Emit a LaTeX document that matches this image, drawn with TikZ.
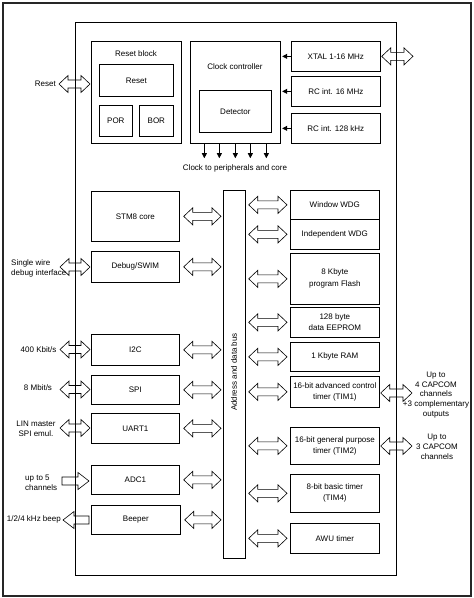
\documentclass[tikz,border=0pt]{standalone}
\usepackage{fontspec}
\setmainfont{Liberation Sans}
\usetikzlibrary{calc,arrows.meta}
\tikzset{
 blk/.style={draw, line width=0.7pt, inner sep=0pt, align=center, anchor=north west, font=\fontsize{8}{11}\selectfont},
 lbl/.style={inner sep=0pt, font=\fontsize{8}{10}\selectfont},
 hol/.style={draw, fill=white, line width=0.6pt, line join=miter},
 sar/.style={line width=0.8pt, -{Triangle[length=5pt,width=5pt]}},
}
\newcommand\mkblk[6]{\node[blk, minimum width=#4pt, minimum height=#5pt] (#1) at (#2,#3) {#6};}
\newcommand\dblar[2]{\draw[hol] let \p1=#1, \p2=#2 in
 (\x1,\y1) -- (\x1+9pt,\y1+8.5pt) -- (\x1+9pt,\y1+4pt) -- (\x2-9pt,\y1+4pt) -- (\x2-9pt,\y1+8.5pt)
 -- (\x2,\y1) -- (\x2-9pt,\y1-8.5pt) -- (\x2-9pt,\y1-4pt) -- (\x1+9pt,\y1-4pt) -- (\x1+9pt,\y1-8.5pt) -- cycle;}
\newcommand\singR[2]{\draw[hol] let \p1=#1, \p2=#2 in
 (\x1,\y1+4pt) -- (\x2-11pt,\y1+4pt) -- (\x2-11pt,\y1+8.5pt) -- (\x2,\y1) -- (\x2-11pt,\y1-8.5pt)
 -- (\x2-11pt,\y1-4pt) -- (\x1,\y1-4pt) -- cycle;}
\newcommand\singL[2]{\draw[hol] let \p1=#1, \p2=#2 in
 (\x2,\y1+4pt) -- (\x1+11pt,\y1+4pt) -- (\x1+11pt,\y1+8.5pt) -- (\x1,\y1) -- (\x1+11pt,\y1-8.5pt)
 -- (\x1+11pt,\y1-4pt) -- (\x2,\y1-4pt) -- cycle;}
\begin{document}
\begin{tikzpicture}[x=1pt,y=-1pt]
\useasboundingbox (0,0) rectangle (474,598);
\fill[white] (0,0) rectangle (474,598);
\draw[line width=1.3pt, black!85] (3,3) rectangle (471,596);

% reset block
\mkblk{resetblk}{91}{41}{90}{102}{}
\node[lbl] (resetlbl) at (136,54) {Reset block};
\mkblk{reset}{99}{64}{74}{32}{Reset}
\mkblk{por}{99}{105}{33}{31}{POR}
\mkblk{bor}{139}{105}{34}{31}{BOR}

% clock
\mkblk{clk}{190}{41}{90}{102}{}
\node[lbl] (clklbl) at (235,67) {Clock controller};
\mkblk{det}{199}{90}{72}{42}{Detector}
\mkblk{xtal}{291}{41}{89}{30}{XTAL 1-16 MHz}
\mkblk{rc16}{291}{76}{89}{30}{RC int. 16 MHz}
\mkblk{rc128}{291}{113}{89}{30}{RC int. 128 kHz}
\foreach \bb in {xtal,rc16,rc128}{
  \draw[sar, shorten >=1.5pt] (\bb.west) -- (\bb.west -| clk.east);}
\foreach \dx in {-31,-16,0,15,31}{
  \draw[sar] ([xshift=\dx pt]clk.south) -- ++(0,14.5);}
\node[lbl] (clkout) at (235,168) {Clock to peripherals and core};

% left column
\mkblk{stm8}{91}{191}{88}{50}{STM8 core}
\mkblk{swim}{91}{251}{88}{31}{Debug/SWIM}
\mkblk{i2c}{91}{334}{88}{31}{I2C}
\mkblk{spi}{91}{375}{88}{29}{SPI}
\mkblk{uart}{91}{413}{88}{30}{UART1}
\mkblk{adc}{91}{465}{88}{29}{ADC1}
\mkblk{beep}{91}{505}{89}{29}{Beeper}

% bus
\mkblk{bus}{223}{190}{22}{368}{}
\node[lbl, rotate=90] (buslbl) at (234,372) {Address and data bus};

% right column
\mkblk{wwdg}{290}{190}{89}{29}{Window WDG}
\mkblk{iwdg}{290}{219}{89}{30}{Independent WDG}
\mkblk{flash}{290}{253}{89}{51}{8 Kbyte\\[1pt]program Flash}
\mkblk{eeprom}{290}{307}{89}{30}{128 byte\\data EEPROM}
\mkblk{ram}{290}{342}{89}{29}{1 Kbyte RAM}
\mkblk{tim1}{290}{376}{89}{31}{16-bit advanced control\\timer (TIM1)}
\mkblk{tim2}{290}{427}{89}{37}{16-bit general purpose\\timer (TIM2)}
\mkblk{tim4}{290}{474}{89}{38}{8-bit basic timer\\(TIM4)}
\mkblk{awu}{290}{523}{89}{30}{AWU timer}

% bus arrows
\foreach \bb in {stm8,swim,i2c,spi,uart,adc,beep}{
  \dblar{([xshift=4pt]\bb.east)}{([xshift=-2pt]\bb.east -| bus.west)}}
\foreach \bb in {wwdg,iwdg,flash,eeprom,ram,tim1,tim2,tim4,awu}{
  \dblar{([xshift=3pt]\bb.west -| bus.east)}{([xshift=-3pt]\bb.west)}}

% external connections
\coordinate (rstx) at (59,84);
\dblar{(rstx)}{([xshift=-1pt]rstx -| resetblk.west)}
\node[lbl, anchor=east] (rstlbl) at (56,84) {Reset};

\coordinate (xtx) at (413,56);
\dblar{([xshift=1pt]xtal.east)}{(xtx)}

\coordinate (swx) at (60,267);
\dblar{(swx)}{([xshift=-1pt]swx -| swim.west)}
\node[lbl, anchor=west, align=left] (swlbl) at (11,268) {Single wire\\debug interface};

\coordinate (i2x) at (60,349.5);
\dblar{(i2x)}{([xshift=-1pt]i2x -| i2c.west)}
\node[lbl, anchor=east] (i2lbl) at (56.5,350) {400 Kbit/s};

\coordinate (spx) at (60,389.5);
\dblar{(spx)}{([xshift=-1pt]spx -| spi.west)}
\node[lbl] (splbl) at (38,388) {8 Mbit/s};

\coordinate (uax) at (60,428);
\dblar{(uax)}{([xshift=-1pt]uax -| uart.west)}
\node[lbl, align=center] (ualbl) at (36,428.5) {LIN master\\SPI emul.};

\coordinate (adx) at (62,481);
\singR{(adx)}{([xshift=-2pt]adx -| adc.west)}
\node[lbl, anchor=west, align=left] (adlbl) at (25,482.5) {up to 5\\channels};

\coordinate (bpx) at (63,520);
\singL{(bpx)}{([xshift=-2pt]bpx -| beep.west)}
\node[lbl, anchor=east] (bplbl) at (61,519) {1/2/4 kHz beep};

\coordinate (t1x) at (412,393);
\dblar{([xshift=1pt]tim1.east |- t1x)}{(t1x)}
\node[lbl, align=center, font=\fontsize{8}{9.8}\selectfont] (t1lbl) at (436,395) {Up to\\4 CAPCOM\\channels\\+3 complementary\\outputs};

\coordinate (t2x) at (412,446);
\dblar{([xshift=1pt]tim2.east |- t2x)}{(t2x)}
\node[lbl, align=center, font=\fontsize{8}{10}\selectfont] (t2lbl) at (437,447) {Up to\\3 CAPCOM\\channels};

% chip outline
\node[draw, line width=0.7pt, inner sep=0pt, minimum width=321pt, minimum height=553pt, anchor=north west] (chip) at (75,22) {};
\end{tikzpicture}
\end{document}
